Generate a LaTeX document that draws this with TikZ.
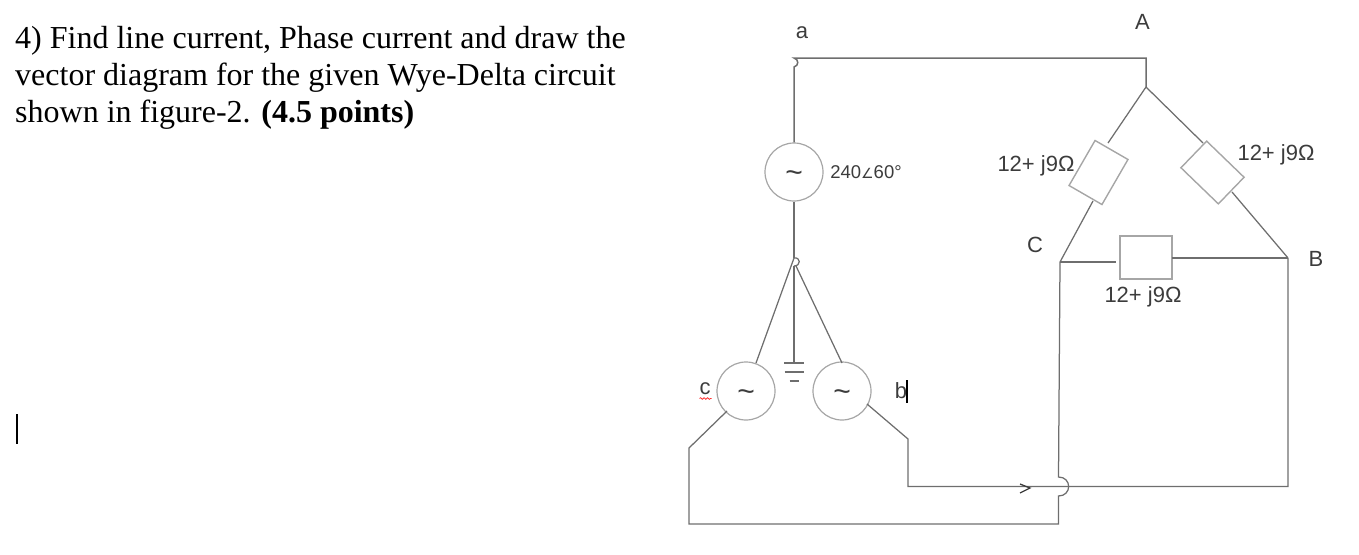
\documentclass[tikz,border=0pt]{standalone}
\usepackage{fontspec}
\setmainfont{Liberation Serif}
\setsansfont{Liberation Sans}
\newfontfamily\symfont{DejaVu Sans}
\usetikzlibrary{decorations.pathmorphing}
\definecolor{wire}{HTML}{6E6E6E}
\definecolor{part}{HTML}{A6A6A6}
\definecolor{ink}{HTML}{3C3C3C}
\newcommand{\acmark}{\raisebox{-10pt}[0pt][0pt]{\textasciitilde}}
\tikzset{
  wireline/.style={draw=wire,line width=1.5pt},
  thinwire/.style={draw=wire,line width=1.25pt},
  source/.style={circle,draw=part,line width=1.2pt,minimum size=58pt,inner sep=0pt,font=\sffamily\fontsize{30}{30}\selectfont,text=ink},
  loadbox/.style={rectangle,draw=part,line width=1.4pt,inner sep=0pt},
  lbl/.style={inner sep=0pt,font=\sffamily\fontsize{22}{24}\selectfont,text=ink},
  para/.style={inner sep=0pt,anchor=north west,align=left,text=black,font=\fontsize{32}{37}\selectfont},
  cursorline/.style={draw=black,line width=1.2pt}
}
\begin{document}
\begin{tikzpicture}[x=1pt,y=-1pt]
\useasboundingbox (0,0) rectangle (1359,554);
\node[para] (q) at (15,26.5) {\frenchspacing 4) Find line current, Phase current and draw the\\vector diagram for the given Wye-Delta circuit\\shown in figure-2. \textbf{(4.5 points)}};
% sources
\node[source] (sa) at (794,172) {\acmark};
\node[source] (sc) at (746,391) {\acmark};
\node[source] (sb) at (842,391) {\acmark};
% load boxes
\node[loadbox,minimum width=38pt,minimum height=52pt,rotate=-30] (zl) at (1098.5,172.5) {};
\node[loadbox,minimum width=52pt,minimum height=37pt,rotate=-44] (zr) at (1212.5,172.5) {};
\node[loadbox,minimum width=52pt,minimum height=43pt] (zb) at (1146,257.5) {};
% junction points
\coordinate (aj) at (794,67);
\coordinate (at) at (794,58);
\coordinate (tr) at (1146,58);
\coordinate (A) at (1146,87);
\coordinate (C) at (1060,262);
\coordinate (B) at (1288,258);
\coordinate (n) at (794,258);
\coordinate (n2) at (794,266);
\coordinate (zlt) at (1108,143);
\coordinate (zlb) at (1093,201);
\coordinate (zrt) at (1203,143);
\coordinate (zrb) at (1232,192);
\coordinate (zbl) at (1116,262);
\coordinate (zbr) at (1172,258);
\coordinate (sct) at (756,363);
\coordinate (sbt) at (842,363);
\coordinate (scb) at (727,411);
\coordinate (sbb) at (867,404);
\coordinate (c1) at (689,448);
\coordinate (c2) at (689,524);
\coordinate (b1) at (908,439);
\coordinate (b2) at (908,486.5);
\coordinate (br) at (1288,486.5);
\coordinate (j1) at (1058.5,477);
\coordinate (j2) at (1058.5,496);
\coordinate (j3) at (1058.5,524);
\coordinate (g0) at (794,363);
% top wire
\draw[wireline] (sa.north) -- (aj) .. controls (799,66) and (799,59) .. (at) -- (tr) -- (A);
% delta
\draw[thinwire] (A) -- (zlt);
\draw[thinwire] (zlb) -- (C);
\draw[thinwire] (A) -- (zrt);
\draw[thinwire] (zrb) -- (B);
\draw[wireline] (C) -- (zbl);
\draw[wireline] (zbr) -- (B);
% star point
\draw[wireline] (sa.south) -- (n);
\draw[thinwire] (n) .. controls (801,257) and (801,266) .. (n2);
\draw[thinwire] (n2) -- (g0);
\draw[thinwire] (n) -- (sct);
\draw[thinwire] (n2) ++(2,0) -- (sbt);
% ground
\coordinate (g1l) at (784,363); \coordinate (g1r) at (804,363);
\coordinate (g2l) at (784.5,372); \coordinate (g2r) at (803.5,372);
\coordinate (g3l) at (789.5,381); \coordinate (g3r) at (798.5,381);
\draw[thinwire] (g1l) -- (g1r);
\draw[thinwire] (g2l) -- (g2r);
\draw[thinwire] (g3l) -- (g3r);
% lower wires
\draw[thinwire] (scb) -- (c1) -- (c2) -- (j3) -- (j2) .. controls (1072,496) and (1072,477) .. (j1) -- (C);
\draw[thinwire] (sbb) -- (b1) -- (b2) -- (br) -- (B);
% arrow chevron
\coordinate (ch1) at (1020,484); \coordinate (ch2) at (1030,488); \coordinate (ch3) at (1020,493);
\draw[draw=ink,line width=1.3pt] (ch1) -- (ch2) -- (ch3);
% labels
\node[lbl] (la) at (802,33) {a};
\node[lbl] (lA) at (1142.5,22) {A};
\node[lbl] (lB) at (1316,259) {B};
\node[lbl] (lC) at (1035,245) {C};
\node[lbl] (lc) at (705,389) {c};
\node[lbl] (lb) at (901,391) {b};
\node[lbl,font=\sffamily\fontsize{18.5}{20}\selectfont] (lv) at (866,172) {240{\symfont\fontsize{14}{14}\selectfont∠}60°};
\node[lbl] (z1) at (1036,166) {12+ j9Ω};
\node[lbl] (z2) at (1276,155) {12+ j9Ω};
\node[lbl] (z3) at (1143,296.5) {12+ j9Ω};
% spell-check squiggle and text cursors
\coordinate (sq1) at (699.5,398.5); \coordinate (sq2) at (711.5,398.5);
\draw[draw=red!80!white,line width=.8pt,decorate,decoration={snake,amplitude=.8pt,segment length=3.5pt}] (sq1) -- (sq2);
\coordinate (cu1) at (907,380); \coordinate (cu2) at (907,403);
\draw[cursorline] (cu1) -- (cu2);
\coordinate (cu3) at (17,414); \coordinate (cu4) at (17,444);
\draw[cursorline] (cu3) -- (cu4);
\end{tikzpicture}
\end{document}
